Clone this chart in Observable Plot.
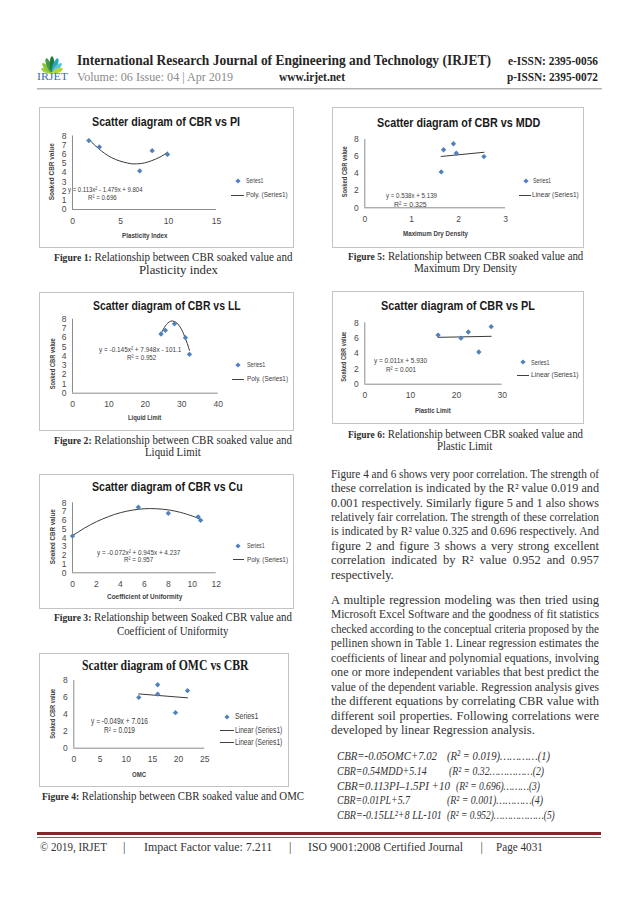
<!DOCTYPE html>
<html>
<head>
<meta charset="utf-8">
<script src="https://cdn.jsdelivr.net/npm/d3@7"></script>
<script src="https://cdn.jsdelivr.net/npm/@observablehq/plot@0.6"></script>
<style>
  html, body { margin: 0; padding: 0; background: #fff; }
  body { position: relative; width: 638px; height: 902px; overflow: hidden; }
  .t { position: absolute; white-space: nowrap; line-height: 1; transform-origin: 0 50%; }
  .box { position: absolute; border: 1px solid #c4c4c4; box-sizing: border-box; background: #fff; }
  .rule { position: absolute; }
  svg.plot { position: absolute; }
</style>
</head>
<body>
<script>
// ---------------- DATA ----------------
// Figure 1: CBR vs Plasticity Index
const piValues = [1.7, 2.8, 7.0, 8.3, 9.9];
const piCBR    = [7.5, 6.8, 4.2, 6.4, 6.0];
const piTrendX = [1.7, 3, 4.5, 6, 6.5, 7.5, 9, 9.9];
const piTrendY = [7.62, 6.38, 5.44, 5.0, 4.97, 5.07, 5.65, 6.24];
const piTicks  = [0, 5, 10, 15];

// Figure 2: CBR vs Liquid Limit
const llValues = [24.3, 25.5, 28.0, 31.0, 32.1];
const llCBR    = [6.4, 6.8, 7.5, 6.0, 4.2];
const llTrendX = [24.3, 25.5, 26.5, 27.4, 28.5, 29.5, 30.5, 31.5, 32.1];
const llTrendY = [6.42, 7.28, 7.69, 7.81, 7.64, 7.18, 6.42, 5.38, 4.63];
const llTicks  = [0, 10, 20, 30, 40];

// Figure 3: CBR vs Coefficient of Uniformity
const cuValues = [0, 5.5, 8.0, 10.5, 10.7];
const cuCBR    = [4.2, 7.5, 6.8, 6.4, 6.0];
const cuTrendX = [0, 1, 2, 3, 4, 5, 6, 7, 8, 9, 10, 10.7];
const cuTrendY = [4.24, 5.11, 5.84, 6.42, 6.87, 7.16, 7.32, 7.32, 7.19, 6.91, 6.49, 6.11];
const cuTicks  = [0, 2, 4, 6, 8, 10, 12];

// Figure 4: OMC vs CBR
const omcValues = [12.4, 16.0, 16.0, 19.4, 21.7];
const omcCBR    = [6.0, 7.5, 6.4, 4.2, 6.8];
const omcTicks  = [0, 5, 10, 15, 20, 25];

// Figure 5: CBR vs Maximum Dry Density
const mddValues = [1.63, 1.68, 1.89, 1.95, 2.54];
const mddCBR    = [4.2, 6.8, 7.5, 6.4, 6.0];
const mddTicks  = [0, 1, 2, 3];

// Figure 6: CBR vs Plastic Limit
const plValues = [16.0, 21.0, 22.6, 24.9, 27.6];
const plCBR    = [6.4, 6.0, 6.8, 4.2, 7.5];
const plTicks  = [0, 10, 20, 30];

const cbrTicksFine = [0, 1, 2, 3, 4, 5, 6, 7, 8];
const cbrTicksWide = [0, 2, 4, 6, 8];

// ---------------- HELPERS ----------------
const SERIF = '"Liberation Serif", "DejaVu Serif", serif';
const SANS = '"Liberation Sans", Arial, sans-serif';
const body = document.body;

function put(html, x, yc, w, o) {
  const fs = o.fs;
  const s = document.createElement("span");
  s.className = "t";
  s.innerHTML = html;
  Object.assign(s.style, {
    left: x + "px", top: (yc - fs * 0.5) + "px", fontSize: fs + "px",
    fontFamily: o.ff || SERIF, fontWeight: o.fw || 400,
    fontStyle: o.it ? "italic" : "normal", color: o.c || "#2b2b2b"
  });
  body.appendChild(s);
  const nw = s.getBoundingClientRect().width;
  if (o.rot) {
    s.style.left = (x - nw / 2) + "px";
    s.style.transformOrigin = "50% 50%";
    s.style.transform = `rotate(-90deg) scaleX(${w / nw})`;
  } else if (w) {
    if (o.just && nw < w) {
      Object.assign(s.style, {width: w + "px", whiteSpace: "normal", textAlign: "justify", textAlignLast: "justify", display: "block"});
    } else {
      s.style.transform = `scaleX(${w / nw})`;
    }
  }
  return s;
}
function rule(x, y, w, h, c) {
  const d = document.createElement("div");
  d.className = "rule";
  Object.assign(d.style, {left: x + "px", top: y + "px", width: w + "px", height: h + "px", background: c});
  body.appendChild(d);
}
function diamond(cx, cy) {
  const ns = "http://www.w3.org/2000/svg";
  const s = document.createElementNS(ns, "svg");
  s.setAttribute("width", 8); s.setAttribute("height", 8);
  s.style.cssText = `position:absolute;left:${cx - 4}px;top:${cy - 4}px`;
  s.innerHTML = '<path d="M4,1.4L6.6,4L4,6.6L1.4,4Z" fill="#4f81bd"/>';
  body.appendChild(s);
}
const rows = (xs, ys) => xs.map((x, i) => ({x, y: ys[i]}));

// ---------------- HEADER ----------------
(function logo() {
  const ns = "http://www.w3.org/2000/svg";
  const s = document.createElementNS(ns, "svg");
  s.setAttribute("width", 34); s.setAttribute("height", 30);
  s.style.cssText = "position:absolute;left:35px;top:45px";
  const petals = [[-68, "#a6ce39", 11], [-45, "#8dc63f", 13], [-22, "#3f9b45", 15], [0, "#1f7a3c", 16], [22, "#2aa6b8", 15], [45, "#5cc3e0", 13], [68, "#b9d531", 11]];
  let h = "";
  for (const [a, c, L] of petals) {
    const r = a * Math.PI / 180, bx = 17, by = 28;
    const cx = bx + Math.sin(r) * L * 0.55, cy = by - Math.cos(r) * L * 0.55;
    h += `<ellipse cx="${cx}" cy="${cy}" rx="2.3" ry="${L / 2}" fill="${c}" transform="rotate(${a} ${cx} ${cy})"/>`;
  }
  s.innerHTML = h;
  body.appendChild(s);
})();
put("IRJET", 37, 77.3, 31, {fs: 10, ff: SERIF, c: "#3d6cb4"});
put("International Research Journal of Engineering and Technology (IRJET)", 77, 60, 414, {fs: 15.5, fw: 700, c: "#262626"});
put("e-ISSN: 2395-0056", 508, 61, 90, {fs: 12, fw: 700, c: "#262626"});
put("Volume: 06 Issue: 04 | Apr 2019", 77, 77, 156, {fs: 12.5, c: "#8a8a8a"});
put("www.irjet.net", 279, 77, 66, {fs: 12, fw: 700, c: "#262626"});
put("p-ISSN: 2395-0072", 507, 77, 91, {fs: 12, fw: 700, c: "#262626"});
rule(37, 87.5, 565, 1.5, "#b3b3b3");
rule(37, 89, 565, 1, "#dadada");

// ---------------- CHARTS ----------------
const charts = [
  { // Figure 1
    box: [39, 107, 255, 141], m: [28.5, 78, 39, 33],
    pts: rows(piValues, piCBR), trend: rows(piTrendX, piTrendY),
    xdom: [0, 15], xticks: piTicks, yticks: cbrTicksFine,
    title: ["Scatter diagram of CBR vs PI", 92, 121.5, 148], tff: SANS, tfs: 13,
    xtitle: ["Plasticity Index", 121.5, 235.5, 45.5], ytitle: [52, 172, 57],
    dia: [237.7, 181], leg: [["Series1", 246, 181, 17.3], ["Poly. (Series1)", 246, 195, 41.7]], legLines: [[231, 244, 195]],
    eq: [["y = 0.113x² - 1.479x + 9.804", 67.5, 190, 74.5], ["R² = 0.696", 88, 198, 28.7]], sfs: 7.5
  },
  { // Figure 5
    box: [332, 107, 252, 141], m: [32, 79, 40.7, 32.3],
    pts: rows(mddValues, mddCBR), linear: true,
    xdom: [0, 3], xticks: mddTicks, yticks: cbrTicksWide,
    title: ["Scatter diagram of CBR vs MDD", 376.7, 122.7, 163.3], tff: SANS, tfs: 13.5,
    xtitle: ["Maximum Dry Density", 402.7, 234, 65], ytitle: [345, 172, 51],
    dia: [525.7, 181], leg: [["Series1", 533, 181, 18], ["Linear (Series1)", 531.5, 195, 46.8]], legLines: [[519, 531, 195]],
    eq: [["y = 0.538x + 5.139", 386, 195.7, 51], ["R² = 0.325", 394, 204.3, 32.7]], sfs: 7.5
  },
  { // Figure 2
    box: [39, 292, 255, 139], m: [26.7, 76.3, 38.3, 33],
    pts: rows(llValues, llCBR), trend: rows(llTrendX, llTrendY),
    xdom: [0, 40], xticks: llTicks, yticks: cbrTicksFine,
    title: ["Scatter diagram of CBR vs LL", 93, 305.7, 147.7], tff: SANS, tfs: 13,
    xtitle: ["Liquid Limit", 128.3, 417.7, 33.3], ytitle: [53, 364, 51],
    dia: [238.3, 365], leg: [["Series1", 246.7, 365, 18.3], ["Poly. (Series1)", 246.7, 379, 41]], legLines: [[231.7, 244.3, 379]],
    eq: [["y = -0.145x² + 7.948x - 101.1", 99.3, 349.3, 82.4], ["R² = 0.952", 126.7, 357.7, 29.3]], sfs: 7.5
  },
  { // Figure 6
    box: [332, 291, 252, 133], m: [31.3, 82.3, 40.3, 32.3],
    pts: rows(plValues, plCBR), linear: true,
    xdom: [0, 30], xticks: plTicks, yticks: cbrTicksWide,
    title: ["Scatter diagram of CBR vs PL", 381, 305.7, 154], tff: SANS, tfs: 13.5,
    xtitle: ["Plastic Limit", 415, 410.7, 35.7], ytitle: [344.3, 356.7, 50],
    dia: [522.7, 362.3], leg: [["Series1", 530.7, 362.3, 18.6], ["Linear (Series1)", 530.7, 375, 47.6]], legLines: [[516.7, 529.3, 375]],
    eq: [["y = 0.011x + 5.930", 374.3, 361, 53], ["R² = 0.001", 386, 370, 30]], sfs: 7.5
  },
  { // Figure 3
    box: [39, 474, 255, 135], m: [28.3, 78.3, 36.7, 33],
    pts: rows(cuValues, cuCBR), trend: rows(cuTrendX, cuTrendY),
    xdom: [0, 12], xticks: cuTicks, yticks: cbrTicksFine,
    title: ["Scatter diagram of CBR vs Cu", 91.7, 486.7, 150.6], tff: SANS, tfs: 13,
    xtitle: ["Coefficient of Uniformity", 107.3, 596.7, 75.3], ytitle: [52.7, 536.7, 55],
    dia: [238.3, 546], leg: [["Series1", 246.7, 546, 17.6], ["Poly. (Series1)", 246.7, 559.3, 41]], legLines: [[232.7, 244.3, 559.3]],
    eq: [["y = -0.072x² + 0.945x + 4.237", 96.7, 552.3, 83.3], ["R² = 0.957", 124, 560, 29.3]], sfs: 7.5
  },
  { // Figure 4
    box: [39, 653, 250, 134], m: [27, 84.7, 39.3, 34.3],
    pts: rows(omcValues, omcCBR), linear: true,
    xdom: [0, 25], xticks: omcTicks, yticks: cbrTicksWide,
    title: ["Scatter diagram of OMC vs CBR", 81.7, 665, 166.6], tff: SERIF, tfs: 15,
    xtitle: ["OMC", 132.3, 774.3, 14], ytitle: [53.3, 713.3, 50],
    dia: [227.3, 716.7], leg: [["Series1", 235, 716.7, 23.3], ["Linear (Series1)", 235, 730, 47.3], ["Linear (Series1)", 235, 742.7, 47.3]],
    legLines: [[220, 234, 730], [220, 234, 742.7]],
    eq: [["y = -0.049x + 7.016", 90.7, 721.7, 57], ["R² = 0.019", 104, 730.7, 31]], sfs: 8.5
  }
];

for (const c of charts) {
  const [bx, by, bw, bh] = c.box;
  const b = document.createElement("div");
  b.className = "box";
  Object.assign(b.style, {left: bx + "px", top: by + "px", width: bw + "px", height: bh + "px"});
  body.appendChild(b);

  const trendMark = c.linear
    ? Plot.linearRegressionY(c.pts, {x: "x", y: "y", ci: 0, stroke: "#3a3a3a", strokeWidth: 1})
    : Plot.line(c.trend, {x: "x", y: "y", curve: "natural", stroke: "#3a3a3a", strokeWidth: 1});

  const svg = Plot.plot({
    width: bw, height: bh,
    marginTop: c.m[0], marginRight: c.m[1], marginBottom: c.m[2], marginLeft: c.m[3],
    style: {fontFamily: SANS, fontSize: "8.5px", color: "#4a4a4a", background: "transparent", overflow: "visible"},
    x: {domain: c.xdom, ticks: c.xticks, tickFormat: d => String(d), tickSize: 0, tickPadding: 8, label: null},
    y: {domain: [0, 8], ticks: c.yticks, tickFormat: d => String(d), tickSize: 0, tickPadding: 6, label: null},
    marks: [
      Plot.ruleY([0], {stroke: "#8c8c8c"}),
      Plot.ruleX([0], {stroke: "#8c8c8c"}),
      trendMark,
      Plot.dot(c.pts, {x: "x", y: "y", symbol: "diamond2", fill: "#4f81bd", r: 2.4})
    ]
  });
  svg.classList.add("plot");
  svg.style.left = bx + "px";
  svg.style.top = by + "px";
  body.appendChild(svg);

  put(c.title[0], c.title[1], c.title[2], c.title[3], {fs: c.tfs, fw: 700, ff: c.tff, c: "#1a1a1a"});
  put(c.xtitle[0], c.xtitle[1], c.xtitle[2], c.xtitle[3], {fs: 7.5, fw: 700, ff: SANS, c: "#404040"});
  put("Soaked CBR value", c.ytitle[0], c.ytitle[1], c.ytitle[2], {fs: 7.5, fw: 700, ff: SANS, c: "#404040", rot: true});
  diamond(c.dia[0], c.dia[1]);
  for (const [x1, x2, y] of c.legLines) rule(x1, y - 0.5, x2 - x1, 1, "#404040");
  for (const [s, x, y, w] of c.leg) put(s, x, y, w, {fs: c.sfs, ff: SANS, c: "#404040"});
  for (const [s, x, y, w] of c.eq) put(s, x, y, w, {fs: c.sfs, ff: SANS, c: "#404040"});
}

// ---------------- CAPTIONS ----------------
const capFs = 12.5;
const B = n => `<b style="font-size:0.88em">Figure ${n}:</b>`;
put(`${B(1)} Relationship between CBR soaked value and`, 53.5, 257.5, 238.5, {fs: capFs});
put("Plasticity index", 139, 270, 79, {fs: capFs});
put(`${B(5)} Relationship between CBR soaked value and`, 347.7, 256, 235.3, {fs: capFs});
put("Maximum Dry Density", 414, 268.7, 103, {fs: capFs});
put(`${B(2)} Relationship between CBR soaked value and`, 54, 440, 238, {fs: capFs});
put("Liquid Limit", 145, 452.7, 55.7, {fs: capFs});
put(`${B(6)} Relationship between CBR soaked value and`, 348, 434, 235, {fs: capFs});
put("Plastic Limit", 436.7, 446.7, 55.3, {fs: capFs});
put(`${B(3)} Relationship between Soaked CBR value and`, 54, 617.7, 238, {fs: capFs});
put("Coefficient of Uniformity", 116.7, 631, 111.3, {fs: capFs});
put(`${B(4)} Relationship between CBR soaked value and OMC`, 42, 796.7, 262, {fs: capFs});

// ---------------- BODY TEXT ----------------
const para1 = [
  "Figure 4 and 6 shows very poor correlation. The strength of",
  "these correlation is indicated by the R² value 0.019 and",
  "0.001 respectively. Similarly figure 5 and 1 also shows",
  "relatively fair correlation. The strength of these correlation",
  "is indicated by R² value 0.325 and 0.696 respectively. And",
  "figure 2 and figure 3 shows a very strong excellent",
  "correlation indicated by R² value 0.952 and 0.957",
  "respectively."
];
const para1Y = [474, 488.4, 502.8, 517.2, 531.6, 546, 560.4, 574.8];
const para2 = [
  "A multiple regression modeling was then tried using",
  "Microsoft Excel Software and the goodness of fit statistics",
  "checked according to the conceptual criteria proposed by the",
  "pellinen shown in Table 1. Linear regression estimates the",
  "coefficients of linear and polynomial equations, involving",
  "one or more independent variables that best predict the",
  "value of the dependent variable. Regression analysis gives",
  "the different equations by correlating CBR value with",
  "different soil properties. Following correlations were",
  "developed by linear Regression analysis."
];
const para2Y = [600, 614.4, 628.8, 643.5, 658.2, 672.7, 687, 701.6, 716.1, 730.7];
para1.forEach((s, i) => {
  const last = i === para1.length - 1;
  put(s, 331, para1Y[i], last ? 0 : 268, {fs: 12.5, c: "#333", just: true});
});
para2.forEach((s, i) => {
  const last = i === para2.length - 1;
  put(s, 331, para2Y[i], last ? 0 : 268, {fs: 12.5, c: "#333", just: true});
});

// ---------------- EQUATIONS ----------------
const eqs = [
  ["CBR=-0.05OMC+7.02", 337, 100, "(R² = 0.019)…………(1)", 447, 103, 756, 13.5],
  ["CBR=0.54MDD+5.14", 337, 89.7, "(R² = 0.32……………(2)", 449, 95, 771.5, 12.5],
  ["CBR=0.113PI–1.5PI +10", 337, 113, "(R² = 0.696)………(3)", 456, 84, 786, 12.5],
  ["CBR=0.01PL+5.7", 337, 73, "(R² = 0.001)…………(4)", 446.7, 96, 800.5, 12.5],
  ["CBR=-0.15LL²+8 LL-101", 337, 104.7, "(R² = 0.952)………………(5)", 447.3, 107.7, 815, 12.5]
];
for (const [a, ax, aw, b, bx, bw, y, fs] of eqs) {
  put(a, ax, y, aw, {fs, it: true, c: "#333"});
  put(b, bx, y, bw, {fs, it: true, c: "#333"});
}

// ---------------- FOOTER ----------------
rule(37, 832, 564, 3, "#7d2b2b");
rule(37, 837, 564, 1, "#9c5a5a");
put("© 2019, IRJET", 39.5, 847, 67, {fs: 12, c: "#333"});
put("|", 123, 847, 0, {fs: 12, c: "#333"});
put("Impact Factor value: 7.211", 143.7, 847, 128.3, {fs: 12, c: "#333"});
put("|", 289, 847, 0, {fs: 12, c: "#333"});
put("ISO 9001:2008 Certified Journal", 308, 847, 155, {fs: 12, c: "#333"});
put("|", 480.5, 847, 0, {fs: 12, c: "#333"});
put("Page 4031", 495.7, 847, 46.8, {fs: 12, c: "#333"});
</script>
</body>
</html>
